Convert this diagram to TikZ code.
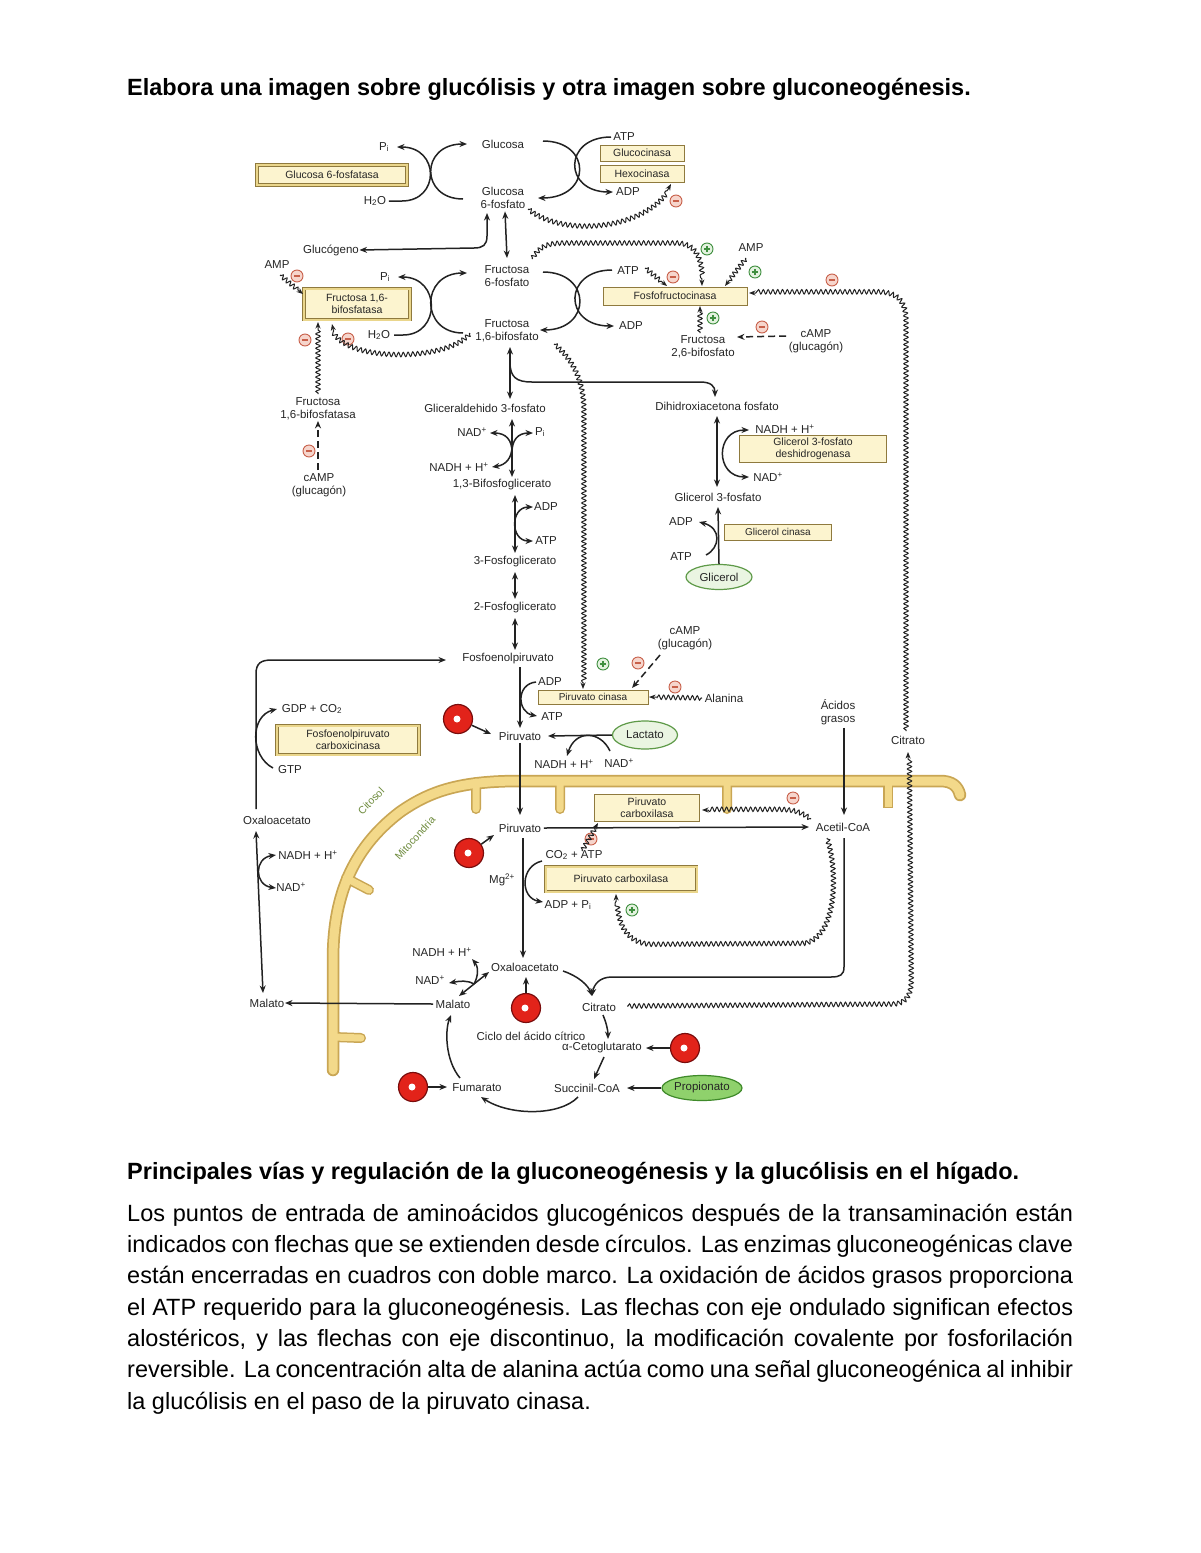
\documentclass[tikz,border=0pt]{standalone}
\usepackage{fontspec}
\setmainfont{Liberation Sans}
\usetikzlibrary{arrows.meta,decorations.pathmorphing,shapes.geometric}
\definecolor{txt}{HTML}{262626}
\definecolor{arrc}{HTML}{222222}
\definecolor{boxc}{HTML}{8F7A3E}
\definecolor{boxf}{HTML}{FCF4CF}
\definecolor{boxg}{HTML}{EAD68C}
\definecolor{memc}{HTML}{C9A654}
\definecolor{memf}{HTML}{F3D98A}
\definecolor{plusc}{HTML}{3F8F3F}
\definecolor{plusf}{HTML}{E3F2DF}
\definecolor{negc}{HTML}{C8604A}
\definecolor{negf}{HTML}{F6D5CC}
\definecolor{redf}{HTML}{E2231A}
\definecolor{redd}{HTML}{7A0D0D}
\definecolor{elc}{HTML}{5E9A48}
\definecolor{elf}{HTML}{EAF5E2}
\definecolor{propf}{HTML}{8FD16C}
\definecolor{propc}{HTML}{3F8A2A}
\definecolor{olive}{HTML}{6E8B3D}
\newcommand\jline[1]{\hbox to 946pt{\spaceskip=0.278em plus 0.5em minus 0.15em #1}}
\begin{document}
\begin{tikzpicture}[x=1pt,y=-1pt,
 lbl/.style={font=\fontsize{11.5}{13}\selectfont, text=txt, inner sep=0.5pt, align=center},
 arr/.style={draw=arrc, line width=1.5pt, -{Stealth[length=7.5pt,width=6pt]}},
 darr/.style={draw=arrc, line width=1.5pt, {Stealth[length=7.5pt,width=6pt]}-{Stealth[length=7.5pt,width=6pt]}},
 wavy/.style={draw=arrc, line width=1pt, decorate, decoration={snake, amplitude=2.2pt, segment length=4.8pt, pre length=1pt, post length=6pt}, -{Stealth[length=6.5pt,width=5pt]}},
 dsh/.style={draw=arrc, line width=1.5pt, dash pattern=on 7pt off 4pt, -{Stealth[length=7.5pt,width=6pt]}},
 enz/.style={draw=boxc, line width=1pt, fill=boxf, font=\fontsize{10.5}{12}\selectfont, text=txt, inner sep=0, align=center},
 enzd/.style={enz, line width=0.9pt, double=boxg, double distance=2pt},
 actv/.style={circle, draw=plusc, fill=plusf, line width=0.9pt, minimum size=12pt, inner sep=0,
   path picture={\draw[plusc, line width=1.2pt] ([xshift=-3.2pt]path picture bounding box.center) -- ([xshift=3.2pt]path picture bounding box.center) ([yshift=-3.2pt]path picture bounding box.center) -- ([yshift=3.2pt]path picture bounding box.center);}},
 inhb/.style={circle, draw=negc, fill=negf, line width=0.9pt, minimum size=12pt, inner sep=0,
   path picture={\draw[negc, line width=1.2pt] ([xshift=-3.2pt]path picture bounding box.center) -- ([xshift=3.2pt]path picture bounding box.center);}},
 aa/.style={circle, draw=redd, fill=redf, line width=1.2pt, minimum size=29pt, inner sep=0,
   path picture={\fill[white] ([xshift=-1pt]path picture bounding box.center) circle[radius=3.5pt];}},
 ell/.style={ellipse, draw=elc, fill=elf, line width=1.2pt, inner sep=0, font=\fontsize{11.5}{13}\selectfont, text=txt},
 mem/.style={line cap=round, line join=round},
]
\useasboundingbox (0,0) rectangle (1200,1553);
\fill[white] (0,0) rectangle (1200,1553);

% ---------- texts of the page ----------
\node[anchor=base west, inner sep=0, font=\fontsize{23.5}{28}\selectfont\bfseries] (title) at (127,95) {Elabora una imagen sobre glucólisis y otra imagen sobre gluconeogénesis.};
\node[anchor=base west, inner sep=0, font=\fontsize{23.5}{28}\selectfont\bfseries] (capt) at (127,1179) {Principales vías y regulación de la gluconeogénesis y la glucólisis en el hígado.};
\begin{scope}[every node/.style={anchor=base west, inner sep=0, font=\fontsize{23.5}{28}\selectfont}]
\node (b1) at (127,1221) {\jline{Los puntos de entrada de aminoácidos glucogénicos después de la transaminación están}};
\node (b2) at (127,1252.3) {\jline{indicados con flechas que se extienden desde círculos. Las enzimas gluconeogénicas clave}};
\node (b3) at (127,1283.6) {\jline{están encerradas en cuadros con doble marco. La oxidación de ácidos grasos proporciona}};
\node (b4) at (127,1315) {\jline{el ATP requerido para la gluconeogénesis. Las flechas con eje ondulado significan efectos}};
\node (b5) at (127,1346.3) {\jline{alostéricos, y las flechas con eje discontinuo, la modificación covalente por fosforilación}};
\node (b6) at (127,1377.6) {\jline{reversible. La concentración alta de alanina actúa como una señal gluconeogénica al inhibir}};
\node (b7) at (127,1409) {la glucólisis en el paso de la piruvato cinasa.};
\end{scope}

% ---------- membrane ----------
\begin{scope}[mem]
\draw[memc, line width=12.5pt] (333,1070) -- (333,960) .. controls (333,900) and (350,850) .. (400,812) .. controls (430,791) and (460,781) .. (520,781) -- (940,781) .. controls (952,781) and (958,786) .. (960,795);
\draw[memc, line width=10pt] (346,878) -- (369,890) (334,1037) -- (361,1038) (476,782) -- (476,809) (560,782) -- (560,809) (727,782) -- (727,809);
\draw[memc, line width=10pt, line cap=butt] (888,782) -- (888,808);
\draw[memf, line width=7pt] (346,878) -- (369,890) (334,1037) -- (361,1038) (476,782) -- (476,809) (560,782) -- (560,809) (727,782) -- (727,809);
\draw[memf, line width=7pt, line cap=butt] (888,782) -- (888,806.5);
\draw[memf, line width=9pt] (333,1070) -- (333,960) .. controls (333,900) and (350,850) .. (400,812) .. controls (430,791) and (460,781) .. (520,781) -- (940,781) .. controls (952,781) and (958,786) .. (960,795);
\end{scope}
\node[font=\fontsize{10.5}{12}\selectfont, text=olive, rotate=45, inner sep=0] (cyt) at (371,801) {Citosol};
\node[font=\fontsize{10.5}{12}\selectfont, text=olive, rotate=48, inner sep=0] (mit) at (415,838) {Mitocondria};

% ---------- top ----------
\node[lbl] (glc) at (503,144) {Glucosa};
\node[lbl] (g6p) at (503,198) {Glucosa\\6-fosfato};
\node[lbl] (pi1) at (384,147) {P\textsubscript{i}};
\node[lbl] (h2o1) at (375,201) {H\textsubscript{2}O};
\node[lbl] (atp1) at (624,137) {ATP};
\node[lbl] (adp1) at (628,192) {ADP};
\node[enz, minimum width=84pt, minimum height=16pt] (gck) at (642,153) {Glucocinasa};
\node[enz, minimum width=84pt, minimum height=17pt] (hk) at (642,174) {Hexocinasa};
\node[enzd, minimum width=150pt, minimum height=20pt] (g6pase) at (332,175) {Glucosa 6-fosfatasa};
\node[inhb] (n1) at (676,201) {};

\draw[arr] (h2o1.east) ++(2,0) -- (402,201) .. controls (440,201) and (440,147) .. (397,147);
\draw[arr] (463,199) .. controls (420,199) and (420,144) .. (467,144);
\draw[arr] (543,141) .. controls (592,141) and (592,198) .. (538,198);
\draw[arr] (611,137) .. controls (563,137) and (563,192) .. (613,192);
\draw[wavy] (528,209) .. controls (565,238) and (650,228) .. (671,184);

\node[lbl] (glyc) at (331,250) {Glucógeno};
\node[lbl] (f6p) at (507,276) {Fructosa\\6-fosfato};
\node[lbl] (fbp) at (507,331) {Fructosa\\1,6-bifosfato};
\draw[darr] (g6p.south) ++(2,2) -- (507,258);
\draw[darr] (487,213) -- (487,236) .. controls (487,245) and (483,248) .. (474,248) -- (glyc.east);

\node[lbl] (pi2) at (385,277) {P\textsubscript{i}};
\node[lbl] (h2o2) at (379,335) {H\textsubscript{2}O};
\node[lbl] (atp2) at (628,271) {ATP};
\node[lbl] (adp2) at (631,326) {ADP};
\node[lbl] (amp1) at (277,265) {AMP};
\node[lbl] (amp2) at (751,248) {AMP};
\node[enzd, minimum width=106pt, minimum height=31pt] (fbpase) at (357,304) {Fructosa 1,6-\\bifosfatasa};
\node[enz, minimum width=144pt, minimum height=18pt] (pfk) at (675,296) {Fosfofructocinasa};
\node[lbl] (f26) at (703,346.5) {Fructosa\\2,6-bifosfato};
\node[lbl] (camp1) at (816,341.5) {cAMP\\(glucagón)};
\node[inhb] at (297,276) {};
\node[inhb] at (673,277) {};
\node[actv] at (707,249) {};
\node[actv] at (755,272) {};
\node[inhb] at (832,280) {};
\node[actv] at (713,318) {};
\node[inhb] at (762,327) {};
\node[inhb] at (305,340) {};
\node[inhb] at (348,339) {};

\draw[arr] (394,335) -- (403,335) .. controls (441,335) and (441,277) .. (398,277);
\draw[arr] (463,333) .. controls (420,333) and (420,273) .. (467,273);
\draw[arr] (543,272) .. controls (592,272) and (592,330) .. (540,330);
\draw[arr] (612,270) .. controls (563,270) and (563,326) .. (614,326);

\draw[wavy] (280,275) -- (303,294);
\draw[wavy] (470,333) .. controls (448,362) and (334,362) .. (332,324);
\draw[wavy] (318,394) -- (318,322);
\draw[wavy] (532,259) .. controls (540,246) and (548,244) .. (565,244) -- (675,244) .. controls (695,244) and (702,258) .. (702,286);
\draw[wavy] (746,258) -- (725,286);
\draw[wavy] (645,268) -- (667,286);
\draw[wavy] (700,333) -- (700,306);
\draw[dsh] (camp1.west |- 0,336) ++(-2,0) -- (737,337);
\draw[wavy] (906,731) -- (906,322) .. controls (906,302) and (897,293) .. (877,293) -- (749,293);

\node[lbl] (fbpl) at (318,409) {Fructosa\\1,6-bifosfatasa};
\node[inhb] at (309,451) {};
\node[lbl] (camp2) at (319,485) {cAMP\\(glucagón)};
\draw[dsh] (318,470) -- (fbpl.south);

% ---------- glycolysis ----------
\node[lbl] (gap) at (485,408) {Gliceraldehido 3-fosfato};
\node[lbl] (dhap) at (717,406) {Dihidroxiacetona fosfato};
\draw[darr] (510,347) -- (510,399);
\draw[arr] (510,362) .. controls (510,377) and (516,382) .. (532,382) -- (700,382) .. controls (711,382) and (715,386) .. (715,397);
\draw[wavy] (554,344) .. controls (570,357) and (583,378) .. (583,410) -- (583,689);

\node[lbl] (nad1) at (472,432) {NAD\textsuperscript{+}};
\node[lbl] (pi3) at (540,432) {P\textsubscript{i}};
\node[lbl] (nadh1) at (459,467) {NADH + H\textsuperscript{+}};
\node[lbl] (bpg) at (502,485) {1,3-Bifosfoglicerato};
\draw[darr] (512,419) -- (512,477);
\draw[arr] (512,452) .. controls (512,440) and (506,433) .. (490,433);
\draw[arr] (512,452) .. controls (512,440) and (518,433) .. (533,433);
\draw[arr] (512,446) .. controls (512,458) and (506,465) .. (492,467);

\node[lbl] (adp3) at (546,507) {ADP};
\node[lbl] (atp3) at (546,541) {ATP};
\node[lbl] (pg3) at (515,562) {3-Fosfoglicerato};
\node[lbl] (pg2) at (515,608) {2-Fosfoglicerato};
\node[lbl] (pep) at (508,659) {Fosfoenolpiruvato};
\draw[darr] (515,495) -- (515,553);
\draw[darr] (533,507) .. controls (510,507) and (510,541) .. (533,541);
\draw[darr] (515,572) -- (515,599);
\draw[darr] (515,618) -- (515,650);

\node[lbl] (adp4) at (550,682) {ADP};
\node[lbl] (atp4) at (552,717) {ATP};
\node[enz, minimum width=110pt, minimum height=14pt, font=\fontsize{10}{11}\selectfont] (pk) at (593,697) {Piruvato cinasa};
\node[lbl] (camp3) at (685,638) {cAMP\\(glucagón)};
\node[actv] at (603,664) {};
\node[inhb] at (638,663) {};
\node[inhb] at (675,687) {};
\node[lbl] (ala) at (724,698) {Alanina};
\node[lbl] (pyr1) at (520,736) {Piruvato};
\node[aa] (aa1) at (458,719) {};
\node[ell, minimum width=65pt, minimum height=28pt] (lac) at (645,735) {Lactato};
\node[lbl] (nadh2) at (564,764) {NADH + H\textsuperscript{+}};
\node[lbl] (nad2) at (619,763) {NAD\textsuperscript{+}};
\draw[arr] (pep.south) ++(12,2) -- (520,728);
\draw[arr] (536,682) .. controls (516,684) and (517,712) .. (537,716);
\draw[dsh] (660,655) -- (632,688);
\draw[wavy] (ala.west) ++(-2,0) -- (649,697);
\draw[arr] (aa1) -- (491,734);
\draw[arr] (lac.west) -- (548,736);
\draw[arr] (610,751) .. controls (600,730) and (575,730) .. (567,756);

% ---------- glycerol ----------
\node[lbl] (nadh3) at (785,429) {NADH + H\textsuperscript{+}};
\node[enz, minimum width=147pt, minimum height=27pt] (g3pdh) at (813,449) {Glicerol 3-fosfato\\deshidrogenasa};
\node[lbl] (nad3) at (768,477) {NAD\textsuperscript{+}};
\node[lbl] (g3p) at (718,497) {Glicerol 3-fosfato};
\node[lbl] (adp5) at (681,522) {ADP};
\node[lbl] (atp5) at (681,557) {ATP};
\node[enz, minimum width=107pt, minimum height=16pt, font=\fontsize{10}{11}\selectfont] (gk) at (778,532) {Glicerol cinasa};
\node[ell, minimum width=66pt, minimum height=25pt] (glyl) at (719,577) {Glicerol};
\draw[darr] (717,416) -- (717,487);
\draw[darr] (749,430) .. controls (715,430) and (715,477) .. (749,477);
\draw[arr] (glyl.north) -- (718,507);
\draw[arr] (706,555) .. controls (720,548) and (722,528) .. (699,522);

% ---------- left ----------
\node[lbl] (gdp) at (312,709) {GDP + CO\textsubscript{2}};
\node[enzd, minimum width=142pt, minimum height=29pt] (pepck) at (348,740) {Fosfoenolpiruvato\\carboxicinasa};
\node[lbl] (gtp) at (290,770) {GTP};
\node[lbl] (oaa1) at (277,820) {Oxaloacetato};
\node[lbl] (nadh4) at (308,855) {NADH + H\textsuperscript{+}};
\node[lbl] (nad4) at (291,887) {NAD\textsuperscript{+}};
\node[lbl] (mal1) at (267,1003) {Malato};
\draw[arr] (256,809) -- (256,674) .. controls (256,663) and (261,660) .. (272,660) -- (446,660);
\draw[arr] (273,768) .. controls (250,756) and (250,716) .. (277,709);
\draw[darr] (256,831) -- (263,993);
\draw[darr] (276,855) .. controls (254,858) and (254,885) .. (276,888);

% ---------- right ----------
\node[lbl] (fa) at (838,712.5) {Ácidos\\grasos};
\node[lbl] (cit1) at (908,740) {Citrato};

% ---------- mitochondrion ----------
\node[enz, minimum width=105pt, minimum height=27pt] (pdh) at (647,808) {Piruvato\\carboxilasa};
\node[inhb] at (793,798) {};
\node[lbl] (pyr2) at (520,828) {Piruvato};
\node[lbl] (acoa) at (843,827) {Acetil-CoA};
\node[inhb] at (591,839) {};
\node[aa] (aa2) at (469,853) {};
\node[lbl] (co2) at (574,855) {CO\textsubscript{2} + ATP};
\node[lbl] (mg) at (502,880) {Mg\textsuperscript{2+}};
\node[enzd, minimum width=151pt, minimum height=25pt] (pc) at (621,879) {Piruvato carboxilasa};
\node[lbl] (adpp) at (568,905) {ADP + P\textsubscript{i}};
\node[actv] at (632,910) {};
\node[lbl] (nadh5) at (442,952) {NADH + H\textsuperscript{+}};
\node[lbl] (nad5) at (430,980) {NAD\textsuperscript{+}};
\node[lbl] (oaa2) at (525,967) {Oxaloacetato};
\node[lbl] (mal2) at (453,1004) {Malato};
\node[aa] (aa3) at (526,1008) {};
\node[lbl] (cit2) at (599,1007) {Citrato};
\node[lbl] (cac) at (531,1036) {Ciclo del ácido cítrico};
\node[lbl] (akg) at (602,1048) {α-Cetoglutarato};
\node[aa] (aa4) at (685,1048) {};
\node[aa] (aa5) at (413,1087) {};
\node[lbl] (fum) at (477,1088) {Fumarato};
\node[lbl] (sca) at (587,1088) {Succinil-CoA};
\node[ell, draw=propc, fill=propf, minimum width=80pt, minimum height=25pt] (prop) at (702,1088) {Propionato};

\draw[arr] (pyr1.south) ++(0,2) -- (520,815);
\draw[arr] (pyr2.east) ++(2,0) -- (809,827);
\draw[wavy] (811,819) .. controls (800,811) and (790,810) .. (776,810) -- (702,810);
\draw[wavy] (582,851) -- (598,823);
\draw[arr] (fa.south) ++(6,2) -- (844,815);
\draw[arr] (844,838) -- (844,967) .. controls (844,975) and (840,977) .. (831,977) -- (612,977) .. controls (600,977) and (594,984) .. (592,996);
\draw[wavy] (827,838) .. controls (838,872) and (836,935) .. (805,942) -- (652,943) .. controls (624,943) and (616,920) .. (616,894);
\draw[arr] (523,838) -- (523,958);
\draw[arr] (542,861) .. controls (520,866) and (520,898) .. (543,902);
\draw[arr] (aa2) -- (494,835);
\draw[darr] (459,996) -- (489,972);
\draw[arr] (474,984) .. controls (479,975) and (478,966) .. (472,959);
\draw[arr] (474,984) .. controls (467,980) and (460,981) .. (449,983);
\draw[arr] (aa3) -- (526,977);
\draw[arr] (563,971) .. controls (578,976) and (588,985) .. (592,996);
\draw[wavy] (627,1006) -- (893,1004) .. controls (905,1003) and (910,995) .. (910,980) -- (908,752);
\draw[arr] (603,1015) .. controls (606,1022) and (608,1030) .. (608,1039);
\draw[arr] (604,1057) -- (594,1079);
\draw[arr] (aa4) -- (646,1048);
\draw[arr] (prop) -- (627,1088);
\draw[arr] (578,1097) .. controls (560,1116) and (510,1116) .. (481,1097);
\draw[arr] (aa5) -- (447,1087);
\draw[arr] (460,1078) .. controls (445,1060) and (445,1030) .. (451,1015);
\draw[arr] (mal2.west) ++(-2,0) -- (mal1.east);
\end{tikzpicture}
\end{document}
